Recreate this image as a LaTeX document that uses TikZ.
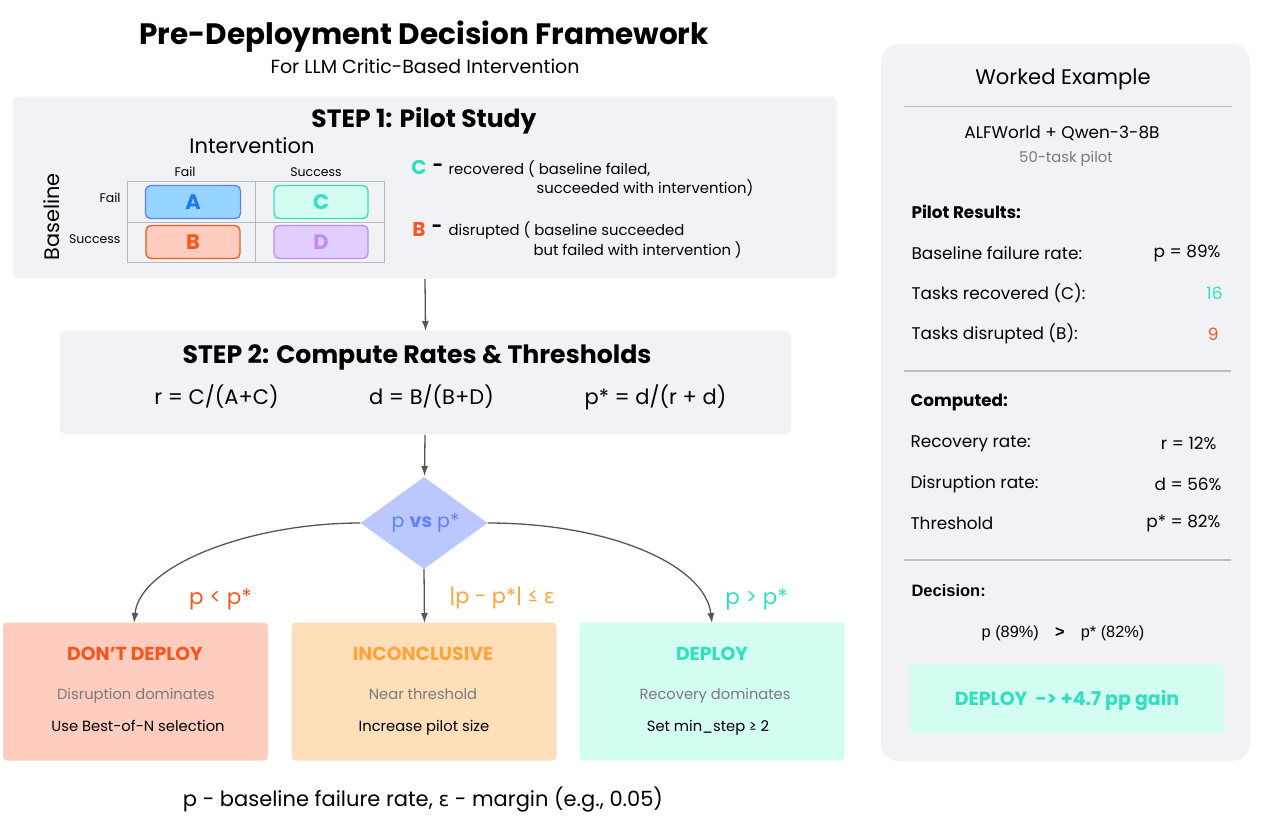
\documentclass[tikz,border=0pt]{standalone}
\usepackage{fontspec}
\setmainfont{Poppins}
\newfontfamily\armfont{Liberation Sans}
\newfontfamily\symfont{DejaVu Sans}
\usetikzlibrary{shapes.geometric}
\usetikzlibrary{arrows.meta}

\definecolor{panelgray}{HTML}{F1F2F6}
\definecolor{linegray}{HTML}{555555}
\definecolor{gridgray}{HTML}{B8B8B8}
\definecolor{rulegray}{HTML}{BDBDBD}
\definecolor{mintfill}{HTML}{D3FDF0}
\definecolor{mintink}{HTML}{2FE0BE}
\definecolor{redfill}{HTML}{FFCDBF}
\definecolor{redink}{HTML}{F9561F}
\definecolor{bluefill}{HTML}{95D5FF}
\definecolor{blueink}{HTML}{1F78F0}
\definecolor{blueedge}{HTML}{5F80FF}
\definecolor{violetfill}{HTML}{E2CDFF}
\definecolor{violetink}{HTML}{BE8CFF}
\definecolor{orangefill}{HTML}{FFDFBA}
\definecolor{orangeink}{HTML}{FFA33A}
\definecolor{diamondfill}{HTML}{BAC8FF}
\definecolor{diamondink}{HTML}{5F80FF}
\definecolor{softtext}{HTML}{7A7A7A}

\tikzset{
  panel/.style={fill=panelgray, rounded corners=5pt},
  cell/.style={draw, rounded corners=5pt, line width=1.3pt, font=\bfseries\fontsize{21}{24}\selectfont},
  flow/.style={-{Latex[length=10pt,width=7pt]}, color=linegray, line width=1.3pt},
  result/.style={rounded corners=4pt, minimum width=265pt, minimum height=138pt},
  sidekey/.style={anchor=west, font=\fontsize{16.9}{20}\selectfont},
  sideval/.style={anchor=east, font=\fontsize{16.9}{20}\selectfont},
  sidehead/.style={anchor=west, font=\bfseries\fontsize{16.8}{20}\selectfont},
  siderule/.style={color=rulegray, line width=1.2pt},
}

\begin{document}
\begin{tikzpicture}[x=1pt, y=-1pt]
  \useasboundingbox (0,0) rectangle (1287,828);

  % title
  \node (title) at (424,37) {\bfseries\fontsize{29.5}{36}\selectfont Pre-Deployment Decision Framework};
  \node (subtitle) at (425,66.5) {\fontsize{19}{22}\selectfont For LLM Critic-Based Intervention};

  % step 1
  \node[panel, minimum width=824pt, minimum height=182pt] (stepone) at (425,187.5) {};
  \node (steponetitle) at (424,121) {\bfseries\fontsize{25}{30}\selectfont STEP 1: Pilot Study};
  \node (intervention) at (252,146) {\fontsize{21}{25}\selectfont Intervention};
  \node[rotate=90] (baseline) at (52,217) {\fontsize{20.9}{24}\selectfont Baseline};
  \node (colfail) at (185,172) {\fontsize{12.5}{15}\selectfont Fail};
  \node (colsucc) at (316,172) {\fontsize{12.5}{15}\selectfont Success};
  \node[anchor=east] (rowfail) at (124,198) {\fontsize{12.5}{15}\selectfont Fail};
  \node[anchor=east] (rowsucc) at (124,239) {\fontsize{12.5}{15}\selectfont Success};

  \draw[color=gridgray, line width=1pt] (127.5,181.5) rectangle (384,262) (255.5,181.5)--(255.5,262) (127.5,222.5)--(384,222.5);

  \node[cell, draw=blueedge, fill=bluefill, text=blueink, minimum width=95pt, minimum height=33pt] (cella) at (193,202) {A};
  \node[cell, draw=mintink, fill=mintfill, text=mintink, minimum width=94pt, minimum height=33pt] (cellc) at (321,202) {C};
  \node[cell, draw=redink, fill=redfill, text=redink, minimum width=94pt, minimum height=33pt] (cellb) at (193,242) {B};
  \node[cell, draw=violetink, fill=violetfill, text=violetink, minimum width=94pt, minimum height=33pt] (celld) at (321,242) {D};

  \node[text=mintink] (keyc) at (419,167) {\bfseries\fontsize{20}{24}\selectfont C};
  \node (dashc) at (438,168) {\bfseries\fontsize{18}{18}\selectfont -};
  \node[anchor=west] (textc) at (445,169) {\fontsize{14.85}{18}\selectfont recovered ( baseline failed,};
  \node[anchor=west] (textcc) at (533,188) {\fontsize{14.85}{18}\selectfont succeeded with intervention)};
  \node[text=redink] (keyb) at (419,229) {\bfseries\fontsize{20}{24}\selectfont B};
  \node (dashb) at (437,229) {\bfseries\fontsize{18}{18}\selectfont -};
  \node[anchor=west] (textb) at (445,230) {\fontsize{14.85}{18}\selectfont disrupted ( baseline succeeded};
  \node[anchor=west] (textbb) at (530,250) {\fontsize{14.85}{18}\selectfont but failed with intervention )};

  % step 2
  \node[panel, minimum width=731pt, minimum height=103pt] (steptwo) at (425.5,382.5) {};
  \node (steptwotitle) at (417,357) {\bfseries\fontsize{25.2}{30}\selectfont STEP 2: Compute Rates \& Thresholds};
  \node (rater) at (216.5,397) {\fontsize{21}{25}\selectfont r = C/(A+C)};
  \node (rated) at (431.5,397) {\fontsize{21}{25}\selectfont d = B/(B+D)};
  \node (ratep) at (655.5,397) {\fontsize{21}{25}\selectfont p* = d/(r + d)};

  % decision
  \node[diamond, aspect=1.38, fill=diamondfill, inner sep=0pt, minimum width=127pt, minimum height=92pt, text=diamondink] (decide) at (424,523) {\fontsize{19}{22}\selectfont\hspace*{3pt}p {\bfseries vs} p*};

  % outcomes
  \node[result, fill=redfill] (nodeploy) at (135.5,691.5) {};
  \node[result, fill=orangefill] (inconclusive) at (424,691.5) {};
  \node[result, fill=mintfill] (deploy) at (712,691.5) {};

  \node[text=redink] (nodeploytitle) at (135,654) {\bfseries\fontsize{18.8}{22}\selectfont DON’T DEPLOY};
  \node[text=softtext] (nodeployone) at (136,696) {\fontsize{14.7}{18}\selectfont Disruption dominates};
  \node (nodeploytwo) at (138,726) {\fontsize{14.75}{18}\selectfont Use Best-of-N selection};
  \node[text=orangeink] (inconclusivetitle) at (423,654) {\bfseries\fontsize{18.8}{22}\selectfont INCONCLUSIVE};
  \node[text=softtext] (inconclusiveone) at (423,694.5) {\fontsize{14.7}{18}\selectfont Near threshold};
  \node (inconclusivetwo) at (424,728) {\fontsize{14.75}{18}\selectfont Increase pilot size};
  \node[text=mintink] (deploytitle) at (712,654) {\bfseries\fontsize{18.8}{22}\selectfont DEPLOY};
  \node[text=softtext] (deployone) at (715,696) {\fontsize{14.7}{18}\selectfont Recovery dominates};
  \node (deploytwo) at (708,728) {\fontsize{14.75}{18}\selectfont Set min\_step ≥ 2};

  % connectors
  \coordinate (onestart) at (425,279);
  \coordinate (oneend) at (425.5,331);
  \coordinate (twostart) at (425,435);
  \coordinate (twoend) at (424.5,476);
  \coordinate (lessend) at (134,623);
  \coordinate (nearend) at (424.5,623);
  \coordinate (moreend) at (712,623);
  \draw[flow] (onestart) -- (oneend);
  \draw[flow] (twostart) -- (twoend);
  \draw[flow] (decide.west) .. controls (250,523) and (140,565) .. (lessend);
  \draw[flow] (decide.south) -- (nearend);
  \draw[flow] (decide.east) .. controls (610,523) and (705,565) .. (moreend);

  \node[text=redink] (labelless) at (220.5,599) {\fontsize{21.4}{24}\selectfont p < p*};
  \node[text=orangeink] (labelnear) at (502,598) {\fontsize{20.8}{24}\selectfont |p - p*| ≤ {\symfont\fontsize{20}{20}\selectfont ε}};
  \node[text=mintink] (labelmore) at (756.5,599) {\fontsize{21.4}{24}\selectfont p > p*};

  \node (footnote) at (423,800) {\fontsize{21}{24}\selectfont p - baseline failure rate, {\symfont\fontsize{20}{20}\selectfont ε} - margin (e.g., 0.05)};

  % worked example
  \node[panel, rounded corners=18pt, minimum width=369pt, minimum height=717pt] (worked) at (1065.5,402.5) {};
  \node (workedtitle) at (1063,79) {\fontsize{21.1}{25}\selectfont Worked Example};
  \draw[siderule] (904,106.5) -- (1232,106.5);
  \node (setup) at (1062,133) {\fontsize{16.9}{19}\selectfont ALFWorld + Qwen-3-8B};
  \node[text=softtext] (pilot) at (1066,159) {\fontsize{14.8}{17}\selectfont 50-task pilot};

  \node[sidehead] (pilothead) at (908,212) {Pilot Results:};
  \node[sidekey] (keyp) at (908,253) {Baseline failure rate:};
  \node[sideval] (valp) at (1224,253) {p = 89\%};
  \node[sidekey] (keyr) at (908,293) {Tasks recovered (C):};
  \node[sideval, text=mintink] (valr) at (1226,293) {16};
  \node[sidekey] (keyd) at (908,334) {Tasks disrupted (B):};
  \node[sideval, text=redink] (vald) at (1222,334) {9};
  \draw[siderule] (904,371) -- (1231,371);

  \node[sidehead] (comphead) at (907,403) {Computed:};
  \node[sidekey] (keyrate) at (907,443.5) {Recovery rate:};
  \node[sideval] (valrate) at (1220,443) {r = 12\%};
  \node[sidekey] (keydis) at (907,484) {Disruption rate:};
  \node[sideval] (valdis) at (1225,484) {d = 56\%};
  \node[sidekey] (keythr) at (907,523) {Threshold};
  \node[sideval] (valthr) at (1224,523.5) {p* = 82\%};
  \draw[siderule] (904,560) -- (1231,560);

  \node[sidehead, font=\armfont\bfseries\fontsize{16.5}{20}\selectfont] (dechead) at (908,591) {Decision:};
  \node (decline) at (1063,633) {\armfont\fontsize{16.3}{19}\selectfont p (89\%)\quad{\bfseries >}\quad p* (82\%)};
  \node[fill=mintfill, rounded corners=2pt, minimum width=314pt, minimum height=69pt] (gain) at (1067,699) {};
  \node[text=mintink] (gaintext) at (1067,700) {\bfseries\fontsize{19}{22}\selectfont DEPLOY\ \ -> +4.7 pp gain};
\end{tikzpicture}
\end{document}
